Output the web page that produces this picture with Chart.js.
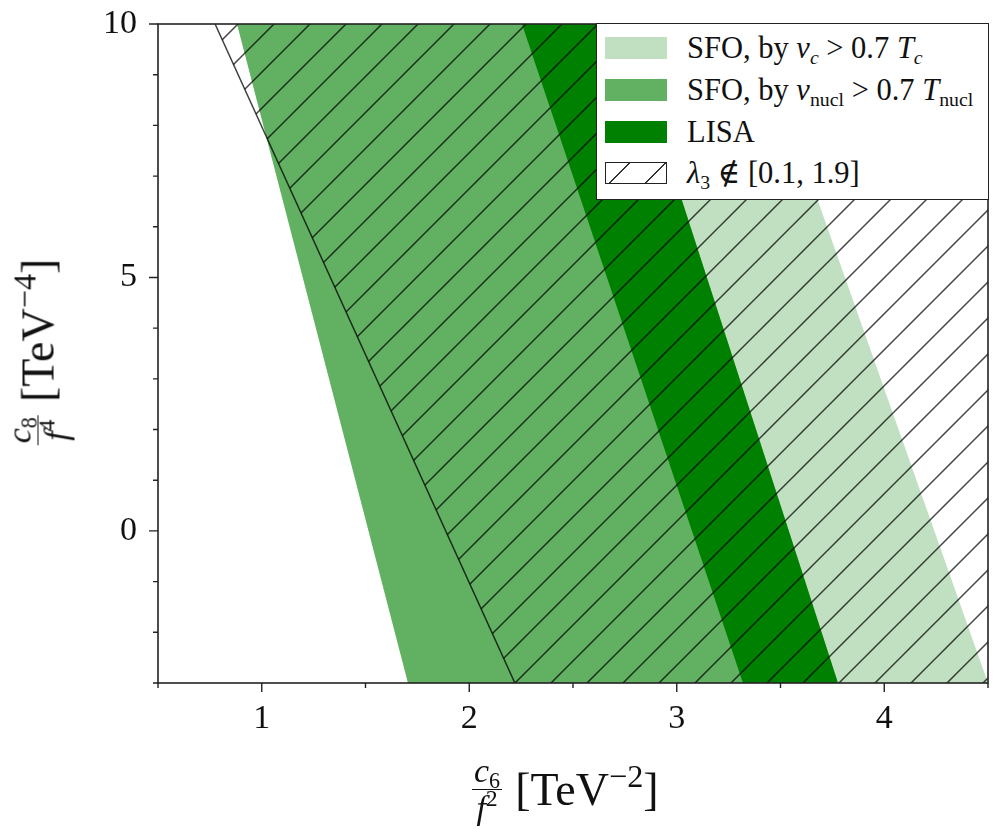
<!DOCTYPE html>
<html><head><meta charset="utf-8">
<script src="https://cdn.jsdelivr.net/npm/chart.js@4.4.1/dist/chart.umd.min.js"></script>
<style>
html,body{margin:0;padding:0;background:#fff;}
#wrap{position:relative;width:1004px;height:830px;font-family:'Liberation Serif','DejaVu Serif',serif;color:#111;overflow:hidden;}
#c{position:absolute;left:0;top:0;}
.legend{position:absolute;left:596px;top:23px;width:393px;height:177px;border:1.5px solid #222;background:#fff;box-sizing:border-box;}
.row{position:absolute;left:0;height:30px;display:flex;align-items:center;font-size:30.5px;white-space:nowrap;}
.sw{width:62px;height:22px;margin-left:8px;margin-right:20px;box-sizing:border-box;flex:none;}
sub{font-size:0.65em;vertical-align:-0.28em;line-height:0;}
sup{font-size:0.7em;vertical-align:0.55em;line-height:0;}
.frac{display:inline-flex;flex-direction:column;align-items:center;font-size:34px;line-height:1;margin-right:13px;}
.frac .num{border-bottom:1.5px solid #111;padding:0 2px 1px;}
.frac .den{padding-top:1px;}
.title{position:absolute;display:flex;align-items:center;white-space:nowrap;font-size:46px;line-height:1;}
</style></head>
<body>
<div id="wrap">
<canvas id="c" width="1004" height="830"></canvas>
<div class="legend">
  <div class="row" style="top:9px"><div class="sw" style="background:rgb(193,224,193)"></div><span>SFO, by <i>v</i><sub><i>c</i></sub> &gt; 0.7 <i>T</i><sub><i>c</i></sub></span></div>
  <div class="row" style="top:51px"><div class="sw" style="background:rgb(98,176,98)"></div><span>SFO, by <i>v</i><sub>nucl</sub> &gt; 0.7 <i>T</i><sub>nucl</sub></span></div>
  <div class="row" style="top:93px"><div class="sw" style="background:rgb(0,128,0)"></div><span>LISA</span></div>
  <div class="row" style="top:134px"><div class="sw" style="border:1.5px solid #222;background:repeating-linear-gradient(135deg,#fff 0 16px,#333 16px 17.4px,#fff 17.4px 25.5px)"></div><span><i>λ</i><sub>3</sub> ∉ [0.1, 1.9]</span></div>
</div>
<div class="title" id="xt" style="left:472px;top:754px;">
  <span class="frac"><span class="num"><i>c</i><sub>6</sub></span><span class="den"><i>f</i><sup>2</sup></span></span><span>[TeV<sup>−2</sup>]</span>
</div>
<div class="title" id="yt" style="left:38px;top:352px;transform:translate(-50%,-50%) rotate(-90deg);">
  <span class="frac"><span class="num"><i>c</i><sub>8</sub></span><span class="den"><i>f</i><sup>4</sup></span></span><span>[TeV<sup>−4</sup>]</span>
</div>
</div>
<script>
// c8 values at which the band boundaries are read (top and bottom of the plot)
const c8Ends = [10, -3];
// c6 values of each boundary line at c8 = 10 and c8 = -3
const lambdaEdgeC6   = [0.775, 2.22];
const sfoNuclLeftC6  = [0.881, 1.705];
const lisaLeftC6     = [2.254, 3.319];
const lisaRightC6    = [2.75, 3.777];
const sfoCRightC6    = [3.38, 4.5];
// axis ranges and labelled ticks
const xRange = [0.5, 4.5];
const yRange = [-3, 10];
const xTickLabels = [1, 2, 3, 4];
const yTickLabels = [0, 5, 10];

function band(left, right) {
  return [
    {x: left[0], y: c8Ends[0]}, {x: right[0], y: c8Ends[0]},
    {x: right[1], y: c8Ends[1]}, {x: left[1], y: c8Ends[1]},
    {x: left[0], y: c8Ends[0]}
  ];
}

function hatchPattern() {
  const s = 36, cv = document.createElement('canvas');
  cv.width = s; cv.height = s;
  const g = cv.getContext('2d');
  g.strokeStyle = 'rgba(0,0,0,0.72)';
  g.lineWidth = 1.5;
  g.beginPath();
  g.moveTo(-6, 16); g.lineTo(16, -6);
  g.moveTo(4, 42); g.lineTo(42, 4);
  g.stroke();
  return g.createPattern(cv, 'repeat');
}

const common = {pointRadius: 0, borderWidth: 0, tension: 0, fill: 'shape'};
const frame = {
  id: 'frame',
  afterDraw(chart) {
    const ctx = chart.ctx, a = chart.chartArea, xs = chart.scales.x, ys = chart.scales.y;
    ctx.save();
    ctx.strokeStyle = '#222'; ctx.lineWidth = 1.6;
    ctx.strokeRect(a.left, a.top, a.right - a.left, a.bottom - a.top);
    ctx.lineWidth = 1.4;
    ctx.beginPath();
    xs.ticks.forEach(t => {
      const p = xs.getPixelForValue(t.value), len = Number.isInteger(t.value) ? 9 : 5;
      ctx.moveTo(p, a.bottom); ctx.lineTo(p, a.bottom + len);
    });
    ys.ticks.forEach(t => {
      const p = ys.getPixelForValue(t.value), len = (t.value % 5 === 0) ? 9 : 5;
      ctx.moveTo(a.left, p); ctx.lineTo(a.left - len, p);
    });
    ctx.stroke();
    ctx.restore();
  }
};

const tickFont = {family: "'Liberation Serif', serif", size: 34};
new Chart(document.getElementById('c'), {
  type: 'line',
  data: {
    datasets: [
      Object.assign({label: 'SFO, by v_c > 0.7 T_c', data: band(sfoNuclLeftC6, sfoCRightC6), backgroundColor: 'rgb(193,224,193)', order: 5}, common),
      Object.assign({label: 'SFO, by v_nucl > 0.7 T_nucl', data: band(sfoNuclLeftC6, lisaRightC6), backgroundColor: 'rgb(98,176,98)', order: 4}, common),
      Object.assign({label: 'LISA', data: band(lisaLeftC6, lisaRightC6), backgroundColor: 'rgb(0,128,0)', order: 3}, common),
      Object.assign({label: 'lambda3 out of [0.1,1.9]', data: band(lambdaEdgeC6, [xRange[1], xRange[1]]), backgroundColor: hatchPattern(), order: 2}, common),
      {label: 'lambda3 edge', data: [{x: lambdaEdgeC6[0], y: c8Ends[0]}, {x: lambdaEdgeC6[1], y: c8Ends[1]}],
       borderColor: 'rgba(0,0,0,0.75)', borderWidth: 1.5, pointRadius: 0, fill: false, order: 1}
    ]
  },
  options: {
    responsive: false, animation: false,
    layout: {padding: {top: 24, right: 16, left: 0, bottom: 0}},
    plugins: {legend: {display: false}, tooltip: {enabled: false}},
    scales: {
      x: {type: 'linear', min: xRange[0], max: xRange[1],
          ticks: {stepSize: 0.5, autoSkip: false, maxRotation: 0, padding: 16, color: '#111', font: tickFont,
                  callback: v => xTickLabels.includes(v) ? String(v) : ''},
          grid: {display: false, drawTicks: false}, border: {display: false},
          afterFit: s => { s.height = 147; s.paddingLeft = 0; s.paddingRight = 0; }},
      y: {type: 'linear', min: yRange[0], max: yRange[1],
          ticks: {stepSize: 1, autoSkip: false, padding: 21, color: '#111', font: tickFont,
                  callback: v => yTickLabels.includes(v) ? String(v) : ''},
          grid: {display: false, drawTicks: false}, border: {display: false},
          afterFit: s => { s.width = 158; s.paddingTop = 0; s.paddingBottom = 0; }}
    }
  },
  plugins: [frame]
});
</script>
</body></html>
